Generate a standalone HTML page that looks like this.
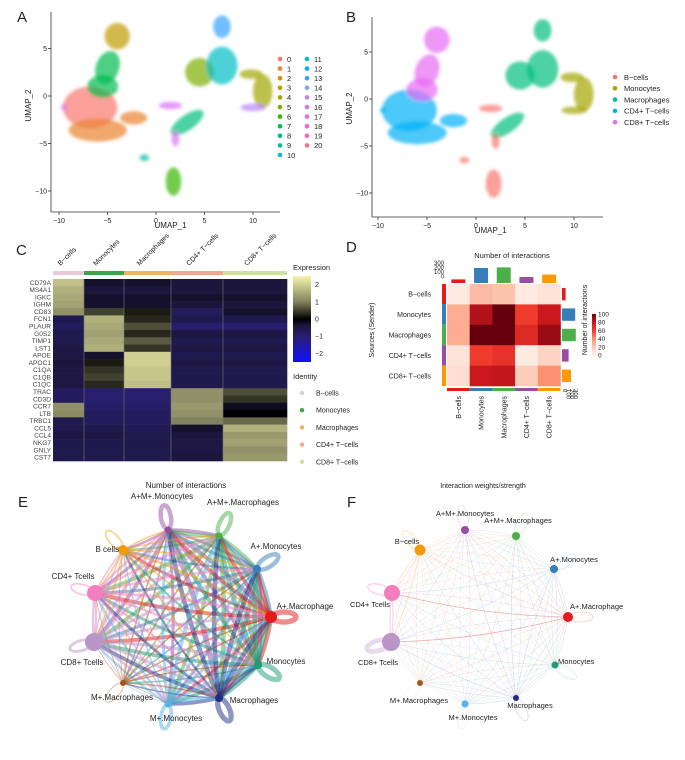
<!DOCTYPE html>
<html><head><meta charset="utf-8"><style>
body{margin:0;background:#fff}
svg{display:block;font-family:"Liberation Sans",sans-serif}
</style></head><body>
<svg id="fig" width="685" height="760" viewBox="0 0 685 760" xmlns="http://www.w3.org/2000/svg">
<defs><filter id="soft" x="-20%" y="-20%" width="140%" height="140%"><feGaussianBlur stdDeviation="1.6"/></filter></defs>
<g id="pA"></g>
<g id="pB"></g>
<g id="pC"></g>
<g id="pD"></g>
<g id="pE"></g>
<g id="pF"></g>
</svg>
<script>
// ---------- data ----------
const clusterX=[-4,-5,-6.8,-6,-2.3,4.5,6.8,6.8,11,9.8,10,3.2,1.8,-1.2,1.5,2,-9.5,-5.5];
const clusterY=[6.3,3,-1.2,-3.6,-2.3,2.5,3.2,7.3,0.5,2.3,-1.2,-2.8,-9,-6.5,-1,-4.5,-1.2,1];
const clusterRX=[1.3,1.2,2.8,3,1.4,1.5,1.6,0.9,1.0,1.2,1.3,2,0.8,0.5,1.2,0.4,0.3,1.6];
const clusterRY=[1.4,1.8,2.2,1.2,0.7,1.5,2,1.2,1.8,0.5,0.4,0.8,1.5,0.35,0.4,0.8,0.3,1.2];
const clusterRot=[0,20,0,0,0,0,0,0,0,0,0,-35,0,0,0,0,0,0];
const clusterIdA=[3,7,0,1,1,5,10,13,4,4,15,8,6,9,16,16,16,7];
const typeB=[4,4,3,3,3,2,2,2,1,1,1,2,0,0,0,0,3,4];
const clusterLabels=["0","1","2","3","4","5","6","7","8","9","10","11","12","13","14","15","16","17","18","19","20"];
const clusterColors=["#F8766D","#EA8331","#D89000","#C09B00","#A3A500","#7CAE00","#39B600","#00BB4E","#00BF7D","#00C1A3","#00BFC4","#00BAE0","#00B0F6","#35A2FF","#7DA0FF","#B983FF","#D774F5","#E76BF3","#FA62DB","#FF62BC","#FF6C91"];
const cellTypes=["B\u2212cells","Monocytes","Macrophages","CD4+ T\u2212cells","CD8+ T\u2212cells"];
const typeColors=["#F8766D","#A3A500","#00BF7D","#00B0F6","#E76BF3"];
const umapXTicks=[-10,-5,0,5,10];
const umapYTicks=[5,0,-5,-10];

const genes=["CD79A","MS4A1","IGKC","IGHM","CD83","FCN1","PLAUR","G0S2","TIMP1","LST1","APOE","APOC1","C1QA","C1QB","C1QC","TRAC","CD3D","CCR7","LTB","TRBC1","CCL5","CCL4","NKG7","GNLY","CST7"];
const heatGroups=["B\u2212cells","Monocytes","Macrophages","CD4+ T\u2212cells","CD8+ T\u2212cells"];
const groupShare=[31,40,47,52,64];
const groupBarColors=["#E8C8DA","#3BA54A","#F2B263","#F6A590","#D2E19A"];
const expr=[
[1.8,-0.3,-0.3,-0.4,-0.4],[1.6,-0.4,-0.4,-0.4,-0.4],[1.5,-0.3,-0.3,-0.3,-0.3],[1.4,-0.3,-0.3,-0.4,-0.4],[1.2,0.5,0.2,-0.8,-0.3],
[-0.6,1.6,0.3,-0.6,-0.6],[-0.8,1.5,0.6,-1,-1],[-0.6,1.4,0.3,-0.5,-0.5],[-0.6,1.5,0.7,-0.6,-0.6],[-0.5,1.6,0.4,-0.5,-0.5],
[-0.5,-0.3,2,-0.6,-0.6],[-0.4,0.2,2,-0.5,-0.5],[-0.5,0.4,1.9,-0.6,-0.6],[-0.5,0.5,1.9,-0.6,-0.6],[-0.5,0.3,1.8,-0.6,-0.6],
[-0.8,-1,-1,1.2,0.6],[-0.8,-1,-1,1.2,0.4],[1.2,-0.9,-0.9,1.3,-0.2],[1.1,-0.8,-0.8,1.2,0],[-0.6,-0.8,-0.8,1,0.8],
[-0.6,-0.6,-0.7,-0.3,1.6],[-0.5,-0.5,-0.6,-0.4,1.3],[-0.6,-0.6,-0.6,-0.5,1.4],[-0.6,-0.6,-0.6,-0.5,1.2],[-0.6,-0.6,-0.6,-0.4,1.3]];
const exprTicks=[2,1,0,-1,-2];

const dTypes=["B\u2212cells","Monocytes","Macrophages","CD4+ T\u2212cells","CD8+ T\u2212cells"];
const dColors=["#E41A1C","#377EB8","#4DAF4A","#984EA3","#FF9900"];
const dMatrix=[[5,25,22,5,8],[30,85,100,60,80],[30,100,100,70,90],[8,60,65,5,15],[10,80,82,18,40]];
const dOutgoing=[60,220,230,110,150];
const dIncoming=[60,250,260,100,140];
const dColorTicks=[100,80,60,40,20,0];

const netNames=["A+M+.Monocytes","A+M+.Macrophages","A+.Monocytes","A+.Macrophage","Monocytes","Macrophages","M+.Monocytes","M+.Macrophages","CD8+ Tcells","CD4+ Tcells","B cells"];
const netColors=["#984EA3","#4DAF4A","#377EB8","#E41A1C","#1B9E77","#1F2D86","#56B4E9","#A6561A","#B995C8","#F37EBF","#F39B0E"];
const countMatrix=[
[6,5,4,5,5,7,4,2,5,4,3],[5,6,5,5,6,6,5,2,5,5,3],[4,5,6,6,6,6,4,2,4,4,3],[5,5,6,7,6,6,4,2,5,5,4],
[5,6,6,6,7,6,5,2,5,4,3],[6,6,6,6,6,7,5,2,5,4,3],[4,5,4,4,5,5,5,1,3,3,2],[2,2,2,2,2,2,1,1,1,1,1],
[4,4,4,4,4,4,3,1,4,3,2],[3,3,3,4,3,3,2,1,3,2,2],[2,2,2,3,2,2,1,1,2,2,2]];
const weightMatrix=[
[0.8,0.5,0.5,0.6,0.5,0.5,0.5,0.4,0.6,0.6,0.5],[0.5,0.8,0.5,0.5,0.5,0.5,0.5,0.4,0.6,0.5,0.4],[0.5,0.5,0.8,0.6,0.5,0.5,0.5,0.4,0.6,0.6,0.4],[0.6,0.5,0.6,1.0,0.5,0.5,0.5,0.5,1.5,1.4,0.6],
[0.5,0.5,0.5,0.5,0.7,0.5,0.5,0.4,0.6,0.5,0.4],[0.5,0.5,0.5,0.5,0.5,0.7,0.5,0.4,0.6,0.5,0.4],[0.5,0.5,0.5,0.5,0.5,0.5,0.6,0.4,0.5,0.5,0.4],[0.4,0.4,0.4,0.4,0.4,0.4,0.4,0.4,0.5,0.4,0.4],
[0.6,0.5,0.6,0.8,0.5,0.5,0.5,0.5,8,2,0.8],[0.6,0.5,0.6,0.8,0.5,0.5,0.5,0.4,2,2.5,1.0],[0.5,0.5,0.5,0.6,0.5,0.5,0.5,0.4,1.2,1.2,1.2]];
const nodeSizeE=[3.5,3.5,4,6,4,4,3.5,3,9,8,5];
const nodeSizeF=[4,4,4,5,3.5,3,3.5,3,9,8,5.5];
// ---------- helpers ----------
const NS="http://www.w3.org/2000/svg";
function mk(parent,tag,attrs,txt){const e=document.createElementNS(NS,tag);for(const k in attrs)e.setAttribute(k,attrs[k]);if(txt!==undefined)e.textContent=txt;parent.appendChild(e);return e;}
function label(p,x,y,t,size,anchor,name,extra){const e=mk(p,"text",Object.assign({x:x,y:y,"font-size":size,"text-anchor":anchor||"start",fill:"#222"},extra||{}),t);

return e;}

// ---------- UMAP panels ----------
function umap(gid,ox,oy,sx,sy,axX,axY,axRight,colorFn,letter,lx){
 const g=document.getElementById(gid);
 const X=v=>ox+v*sx, Y=v=>oy-v*sy;
 label(g,lx,22,letter,15,"start",gid+"-letter");
 const bg=mk(g,"g",{filter:"url(#soft)"});
 for(let i=0;i<clusterX.length;i++){
  const e=mk(bg,"ellipse",{cx:X(clusterX[i]),cy:Y(clusterY[i]),rx:clusterRX[i]*sx,ry:clusterRY[i]*sy,fill:colorFn(i),"fill-opacity":0.7,transform:`rotate(${clusterRot[i]} ${X(clusterX[i])} ${Y(clusterY[i])})`});
  
  
 }
 mk(g,"line",{x1:axX,y1:axY-200,x2:axX,y2:axY,stroke:"#333","stroke-width":0.8});
 mk(g,"line",{x1:axX,y1:axY,x2:axRight,y2:axY,stroke:"#333","stroke-width":0.8});
 umapXTicks.forEach(t=>{mk(g,"line",{x1:X(t),y1:axY,x2:X(t),y2:axY+3,stroke:"#333","stroke-width":0.8});label(g,X(t),axY+11,(t<0?"\u2212"+(-t):t),7,"middle","x-tick-label");});
 umapYTicks.forEach(t=>{mk(g,"line",{x1:axX-3,y1:Y(t),x2:axX,y2:Y(t),stroke:"#333","stroke-width":0.8});label(g,axX-4,Y(t)+2.5,(t<0?"\u2212"+(-t):t),7,"end","y-tick-label");});
 label(g,X(1.5),axY+16,"UMAP_1",8,"middle","x-axis-title");
 label(g,axX-20,Y(-1),"UMAP_2",8,"middle","y-axis-title",{transform:`rotate(-90 ${axX-20} ${Y(-1)})`});
 return g;
}
const gA=umap("pA",156,96,9.7,9.5,51,212,280,i=>clusterColors[clusterIdA[i]],"A",17);
clusterLabels.forEach((l,i)=>{const col=i<11?0:1,row=i<11?i:i-11;const x=280+col*27,y=59+row*9.6;
 const c=mk(gA,"circle",{cx:x,cy:y,r:2.3,fill:clusterColors[i]});
 label(gA,x+7,y+2.8,l,7.5,"start","legend-entry");});
const gB=umap("pB",476,99,9.8,9.4,372,217,603,i=>typeColors[typeB[i]],"B",346);
cellTypes.forEach((l,i)=>{const y=77+i*11.3;const c=mk(gB,"circle",{cx:615,cy:y,r:2.3,fill:typeColors[i]});
 label(gB,624,y+2.8,l,7.5,"start","legend-entry");});

// ---------- heatmap C ----------
function exprColor(v){const st=[[-2.5,[16,16,255]],[-1,[40,30,110]],[-0.4,[28,22,60]],[0,[0,0,0]],[1,[130,130,95]],[2.5,[245,245,170]]];
 v=Math.max(-2.5,Math.min(2.5,v));for(let i=0;i<st.length-1;i++){if(v<=st[i+1][0]){const t=(v-st[i][0])/(st[i+1][0]-st[i][0]);const a=st[i][1],b=st[i+1][1];return `rgb(${a.map((c,k)=>Math.round(c+(b[k]-c)*t)).join(",")})`;}}return "rgb(245,245,170)";}
(function(){const g=document.getElementById("pC");label(g,16,255,"C",15,"start","panel-c-letter");
 const x0=53,x1=287,y0=279,y1=461,tot=groupShare.reduce((a,b)=>a+b,0),rh=(y1-y0)/genes.length;
 let bx=[x0];groupShare.forEach(s=>bx.push(bx[bx.length-1]+s/tot*(x1-x0)));
 genes.forEach((gname,r)=>{label(g,51,y0+rh*r+rh*0.8,gname,6.6,"end","gene-label",{fill:"#444"});
  heatGroups.forEach((h,c)=>{const e=mk(g,"rect",{x:bx[c],y:y0+rh*r,width:bx[c+1]-bx[c]+0.3,height:rh+0.3,fill:exprColor(expr[r][c])});});});
 heatGroups.forEach((h,c)=>{const b=mk(g,"rect",{x:bx[c],y:271,width:bx[c+1]-bx[c],height:4,fill:groupBarColors[c]});
  const cx=(bx[c]+bx[c+1])/2;label(g,cx-8,266,h,7,"start","group-label",{transform:`rotate(-45 ${cx-8} 266)`});
  if(c>0)mk(g,"line",{x1:bx[c],y1:y0,x2:bx[c],y2:y1,stroke:"#777","stroke-width":0.6});});
 label(g,293,270,"Expression",7.5,"start","colorbar-title");
 const gr=mk(g,"defs",{});const lg=mk(gr,"linearGradient",{id:"exg",x1:0,y1:0,x2:0,y2:1});
 [2.5,1,0,-0.4,-1,-2.5].forEach((v,i)=>mk(lg,"stop",{offset:((2.5-v)/5),"stop-color":exprColor(v)}));
 const cb=mk(g,"rect",{x:293,y:276,width:18,height:86,fill:"url(#exg)"});
 exprTicks.forEach(t=>{const y=276+(2.5-t)/5*86;label(g,315,y+2.5,t<0?"\u2212"+(-t):String(t),7,"start","colorbar-tick");});
 label(g,293,379,"Identity",7.5,"start","identity-title");
 heatGroups.forEach((h,i)=>{const y=393+i*17.2;const c=mk(g,"circle",{cx:302,cy:y,r:2.2,fill:groupBarColors[i]});label(g,316,y+2.5,h,7,"start","identity-label");});
})();

// ---------- heatmap D ----------
function redColor(v){const st=[[0,[255,245,240]],[20,[252,200,180]],[40,[252,146,114]],[60,[239,59,44]],[80,[203,24,29]],[100,[103,0,13]]];
 for(let i=0;i<st.length-1;i++){if(v<=st[i+1][0]){const t=(v-st[i][0])/(st[i+1][0]-st[i][0]);const a=st[i][1],b=st[i+1][1];return `rgb(${a.map((c,k)=>Math.round(c+(b[k]-c)*t)).join(",")})`;}}return "rgb(103,0,13)";}
(function(){const g=document.getElementById("pD");label(g,346,252,"D",15,"start","panel-d-letter");
 const x0=447,y0=284,cw=22.7,rh=20.4,barMax=300,barH=18,barW=18;
 label(g,512,258,"Number of interactions",7.5,"middle","d-title");
 dTypes.forEach((t,r)=>{label(g,431,y0+rh*r+rh/2+2.5,t,7,"end","row-label");
  const lb=mk(g,"rect",{x:442,y:y0+rh*r,width:4,height:rh,fill:dColors[r]});
  dTypes.forEach((u,c)=>{const e=mk(g,"rect",{x:x0+cw*c,y:y0+rh*r,width:cw+0.3,height:rh+0.3,fill:redColor(dMatrix[r][c])});});
  const w=dOutgoing[r]/barMax*barW;const rb=mk(g,"rect",{x:562,y:y0+rh*r+4,width:w,height:rh-8,fill:dColors[r]});});
 dTypes.forEach((t,c)=>{const cx=x0+cw*c+cw/2;
  const bb=mk(g,"rect",{x:x0+cw*c,y:388,width:cw,height:3,fill:dColors[c]});
  const h=dIncoming[c]/barMax*barH;const tb=mk(g,"rect",{x:cx-7,y:283-h,width:14,height:h,fill:dColors[c]});
  label(g,cx+2.5,396,t,7,"end","col-label",{transform:`rotate(-90 ${cx+2.5} 396)`});});
 ["300","200","100","0"].forEach((t,i)=>label(g,444,265+i*4.5,t,6,"end","bar-scale-tick"));
 ["0","100","200","300"].forEach((t,i)=>label(g,563+i*3.5,389,t,6,"start","bar-scale-tick",{transform:`rotate(90 ${563+i*3.5} 389)`}));
 const df=mk(g,"defs",{});const lg=mk(df,"linearGradient",{id:"rdg",x1:0,y1:0,x2:0,y2:1});
 [100,80,60,40,20,0].forEach(v=>mk(lg,"stop",{offset:(100-v)/100,"stop-color":redColor(v)}));
 const cb=mk(g,"rect",{x:592,y:314,width:4,height:41,fill:"url(#rdg)"});
 dColorTicks.forEach(t=>label(g,598,314+(100-t)/100*41+2.5,String(t),6.5,"start","d-colorbar-tick"));
 label(g,587,320,"Number of interactions",7,"middle","d-colorbar-title",{transform:`rotate(-90 587 320)`});
 label(g,374,330,"Sources (Sender)",7,"middle","d-y-title",{transform:`rotate(-90 374 330)`});
})();

// ---------- networks ----------
const nodeX=[168,219,257,271,258,219,168,123,94,95,123];
const nodeY=[530,536,569,617,665,698,704,683,642,593,550];
function network(gid,dx,mat,sizes,scale,op,title,titleX,letter,lx,labels){
 const g=document.getElementById(gid);
 label(g,lx,507,letter,15,"start",gid+"-letter");
 label(g,titleX,488,title,gid=="pE"?8:7,"middle","network-title");
 const cx=182+dx,cy=617;
 for(let i=0;i<11;i++){const xi=nodeX[i]+dx,yi=nodeY[i];
  const ang=Math.atan2(yi-cy,xi-cx);const w=mat[i][i]*scale;
  const lx2=xi+Math.cos(ang)*13,ly2=yi+Math.sin(ang)*13;
  const lp=mk(g,"ellipse",{cx:lx2,cy:ly2,rx:12,ry:5,fill:"none",stroke:netColors[i],"stroke-width":w,"stroke-opacity":op,transform:`rotate(${ang*180/Math.PI} ${lx2} ${ly2})`});
  }
 for(let i=0;i<11;i++)for(let j=0;j<11;j++){if(i==j)continue;
  const x1=nodeX[i]+dx,y1=nodeY[i],x2=nodeX[j]+dx,y2=nodeY[j];
  const mx=(x1+x2)/2+(y2-y1)*0.06,my=(y1+y2)/2-(x2-x1)*0.06;
  const e=mk(g,"path",{d:`M${x1},${y1} Q${mx},${my} ${x2},${y2}`,fill:"none",stroke:netColors[i],"stroke-width":mat[i][j]*scale,"stroke-opacity":op});
  }
 for(let i=0;i<11;i++){const n=mk(g,"circle",{cx:nodeX[i]+dx,cy:nodeY[i],r:sizes[i],fill:netColors[i]});}
 labels.forEach((l,i)=>label(g,l[0],l[1],netNames[i]==="B cells"&&gid=="pF"?"B\u2212cells":netNames[i],gid=="pE"?8:7.5,l[2],"node-label"));
}
network("pE",0,countMatrix,nodeSizeE,0.75,0.5,"Number of interactions",186,"E",18,
 [[162,499,"middle"],[243,505,"middle"],[276,549,"middle"],[305,609,"middle"],[286,664,"middle"],[254,703,"middle"],[176,721,"middle"],[122,700,"middle"],[82,665,"middle"],[73,579,"middle"],[119,552,"end"]]);
network("pF",297,weightMatrix,nodeSizeF,0.6,0.35,"Interaction weights/strength",483,"F",347,
 [[465,516,"middle"],[518,523,"middle"],[574,562,"middle"],[570,609,"start"],[558,664,"start"],[530,708,"middle"],[473,720,"middle"],[419,703,"middle"],[378,665,"middle"],[370,607,"middle"],[407,544,"middle"]]);
</script>
</body></html>
